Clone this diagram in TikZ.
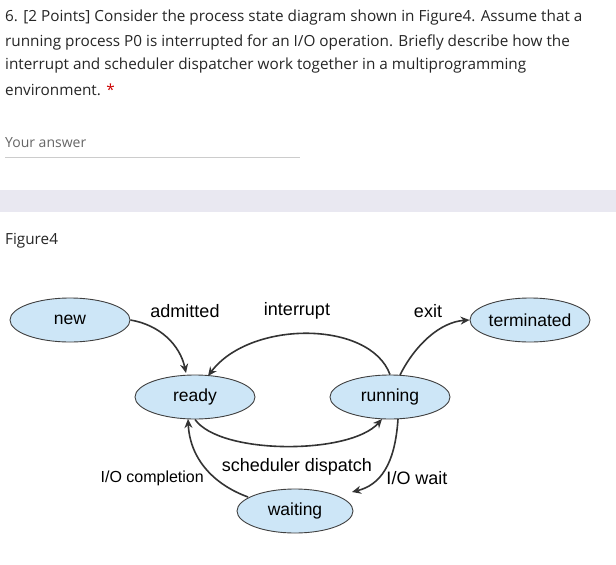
\documentclass[tikz,border=0pt]{standalone}
\usepackage{fontspec}
\setmainfont{Open Sans}
\newfontfamily\arialf{Liberation Sans}
\usetikzlibrary{arrows.meta,shapes.geometric}
\definecolor{stfill}{HTML}{CDE6F7}
\definecolor{band}{HTML}{E9E8F1}
\begin{document}
\begin{tikzpicture}[x=1pt,y=-1pt,
  st/.style={ellipse,draw=black!75,fill=stfill,line width=0.9pt,minimum width=120pt,minimum height=44pt,inner sep=0pt,font=\arialf\fontsize{17.5}{20}\selectfont},
  ar/.style={line width=1.6pt,black!80,-{Stealth[length=9pt,width=8pt]}},
  lb/.style={font=\arialf\fontsize{18}{20}\selectfont,inner sep=1pt},
  qt/.style={font=\fontsize{15.3}{24}\selectfont,anchor=west,inner sep=0pt,text=black!85}]
\useasboundingbox (0,0) rectangle (616,565);
\fill[white] (0,0) rectangle (616,565);
\node[qt] (q1) at (5,18) {6. [2 Points] Consider the process state diagram shown in Figure4. Assume that a};
\node[qt] (q2) at (5,42) {running process P0 is interrupted for an I/O operation. Briefly describe how the};
\node[qt] (q3) at (5,66) {interrupt and scheduler dispatcher work together in a multiprogramming};
\node[qt] (q4) at (5,90) {environment. \textcolor{red!80!black}{*}};
\node[qt,text=black!60,font=\fontsize{14}{16}\selectfont] (ya) at (5,143) {Your answer};
\draw[black!20] (5,157) -- (300,157);
\fill[band] (0,190) rectangle (616,212);
\node[qt,font=\fontsize{15.3}{18}\selectfont] (fig) at (5,241) {Figure4};

\node[st] (new) at (70,320) {new};
\node[st] (term) at (530,320) {terminated};
\node[st] (ready) at (195,397) {ready};
\node[st] (run) at (390,397) {running};
\node[st,minimum width=116pt] (wait) at (295,511) {waiting};

\draw[ar] (new.east) .. controls (160,325) and (180,345) .. (186,373);
\draw[ar] (run.north) .. controls (370,320) and (250,320) .. (208,376);
\draw[ar] (400,375) .. controls (415,345) and (440,322) .. (term.west);
\draw[ar] (ready.south) .. controls (220,455) and (350,455) .. (382,419);
\draw[ar] (248,497) .. controls (215,485) and (190,460) .. (188,419);
\draw[ar] (398,419) .. controls (395,465) and (380,485) .. (352,492);

\node[lb] (l1) at (185,311) {admitted};
\node[lb] (l2) at (297,311) {interrupt};
\node[lb] (l3) at (428,311) {exit};
\node[lb] (l4) at (297,467) {scheduler dispatch};
\node[lb,anchor=east,font=\arialf\fontsize{16}{18}\selectfont] (l5) at (205,478) {I/O completion};
\node[lb] (l6) at (417,478) {I/O wait};
\end{tikzpicture}
\end{document}
